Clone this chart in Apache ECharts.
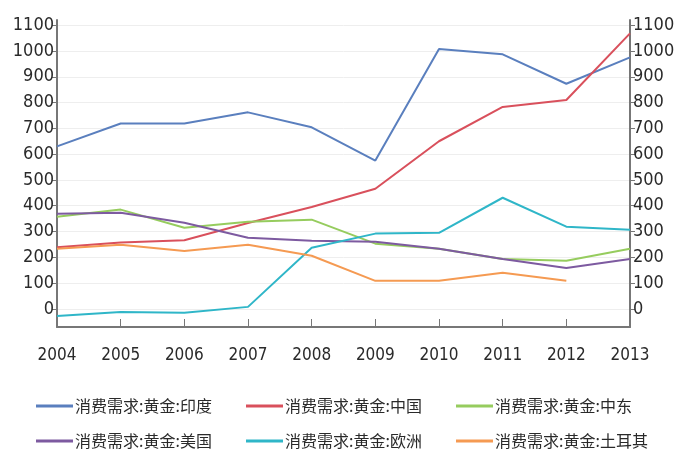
<!DOCTYPE html>
<html>
<head>
<meta charset="utf-8">
<script src="https://cdn.jsdelivr.net/npm/echarts@6/dist/echarts.min.js"></script>
<style>
  html, body { margin: 0; padding: 0; background: #fff; }
  #chart { width: 686px; height: 466px; }
</style>
</head>
<body>
<div id="chart"></div>
<script>
var years = ['2004', '2005', '2006', '2007', '2008', '2009', '2010', '2011', '2012', '2013'];
var yTicks = [0, 100, 200, 300, 400, 500, 600, 700, 800, 900, 1000, 1100];

var seriesNames = [
  '消费需求:黄金:印度', '消费需求:黄金:中国', '消费需求:黄金:中东',
  '消费需求:黄金:美国', '消费需求:黄金:欧洲', '消费需求:黄金:土耳其'
];
var india   = [630, 719, 719, 762, 704, 575, 1008, 987, 873, 975];
var china   = [239, 258, 266, 333, 395, 466, 650, 783, 810, 1068];
var mideast = [357, 385, 315, 338, 346, 253, 233, 194, 187, 233];
var usa     = [369, 373, 334, 276, 264, 260, 233, 194, 159, 194];
var europe  = [-27, -12, -15, 8, 237, 292, 295, 431, 319, 307];
var turkey  = [233, 249, 225, 249, 206, 109, 109, 140, 109, null];

var colors = ['#5a7fbe', '#d9505c', '#96cc5e', '#7d5aa0', '#2fb6c8', '#f59a52'];
var allData = [india, china, mideast, usa, europe, turkey];

var chart = echarts.init(document.getElementById('chart'));
var font = 'DejaVu Sans Condensed';

function yAxisCfg(pos) {
  return {
    type: 'value',
    position: pos,
    min: -70,
    max: 1120,
    axisLine: { show: true, lineStyle: { color: '#777', width: 2 } },
    axisTick: { show: true, customValues: yTicks, length: 5, lineStyle: { color: '#777' } },
    axisLabel: {
      customValues: yTicks,
      formatter: function (v) { return String(v); },
      color: '#2a2a2a',
      fontFamily: font,
      fontSize: 18,
      margin: 3
    },
    splitLine: { show: pos === 'left', lineStyle: { color: '#eeeeee', width: 1 } }
  };
}

var legends = seriesNames.map(function (name, i) {
  return {
    data: [name],
    left: 31 + (i % 3) * 210,
    top: 393 + Math.floor(i / 3) * 35,
    itemWidth: 37,
    itemHeight: 3,
    itemGap: 0,
    icon: 'rect',
    textStyle: { color: '#2a2a2a', fontSize: 16, fontFamily: 'Noto Sans CJK SC', padding: [0, 0, 0, -3] }
  };
});

var option = {
  backgroundColor: '#fff',
  animation: false,
  color: colors,
  legend: legends,
  grid: { left: 57, right: 56, top: 20, bottom: 139 },
  xAxis: {
    type: 'category',
    data: years,
    boundaryGap: false,
    axisLine: { onZero: false, lineStyle: { color: '#777', width: 2 } },
    axisTick: { inside: true, length: 8, lineStyle: { color: '#777' } },
    axisLabel: { color: '#2a2a2a', fontFamily: font, fontSize: 17, margin: 20 }
  },
  yAxis: [yAxisCfg('left'), yAxisCfg('right')],
  series: allData.map(function (d, i) {
    return {
      name: seriesNames[i],
      type: 'line',
      data: d,
      symbol: 'none',
      lineStyle: { width: 2, color: colors[i] },
      itemStyle: { color: colors[i] }
    };
  })
};
chart.setOption(option);
</script>
</body>
</html>
